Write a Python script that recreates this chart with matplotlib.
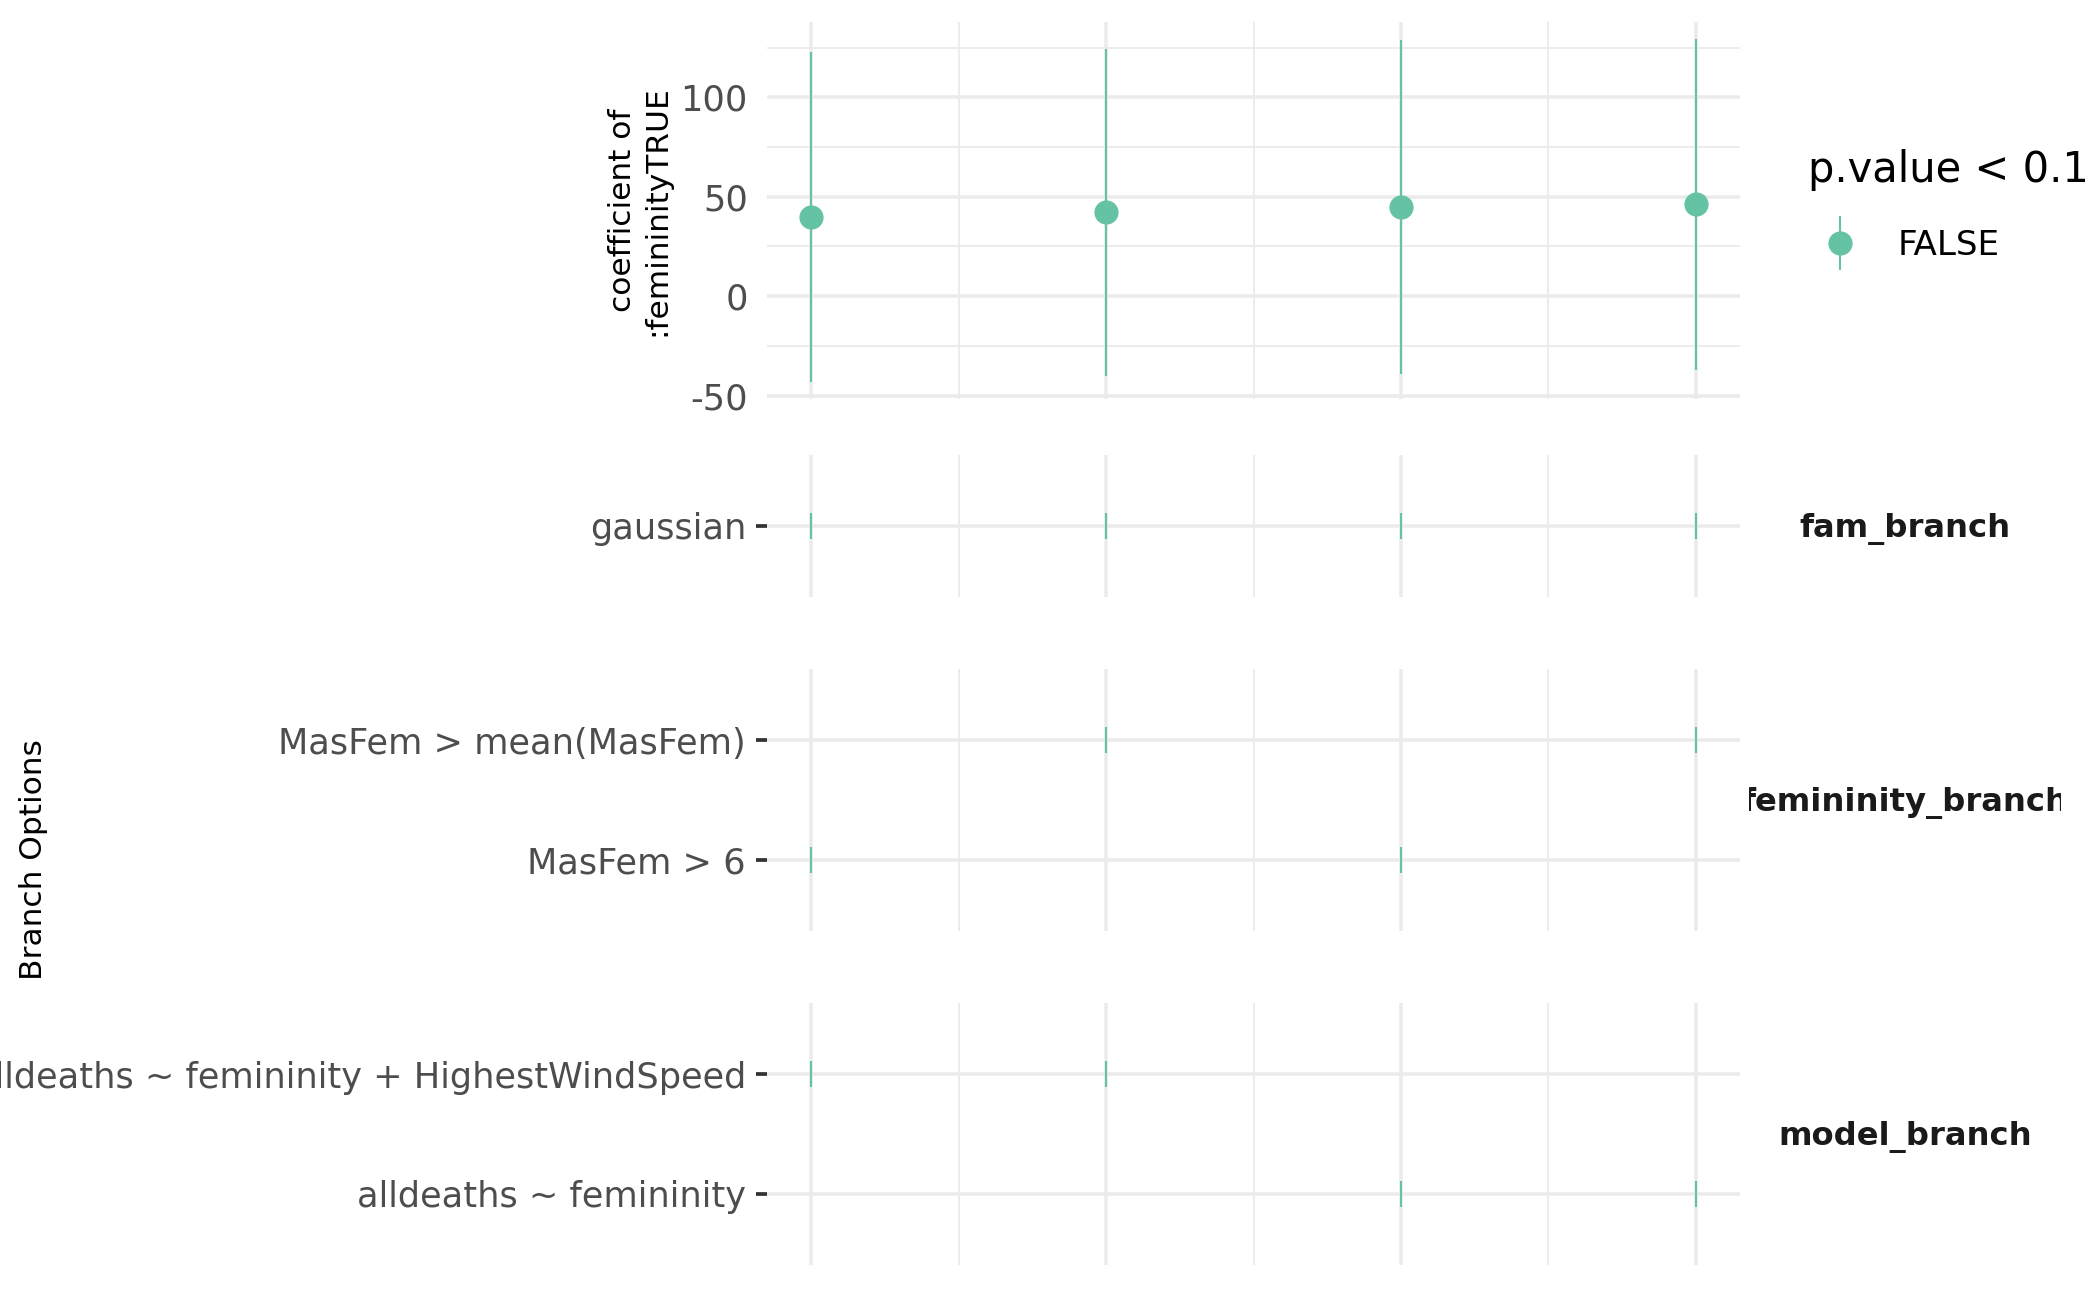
import matplotlib
matplotlib.use("Agg")
import matplotlib.pyplot as plt
import matplotlib.transforms as mtransforms
from matplotlib.container import ErrorbarContainer
from matplotlib.legend_handler import HandlerErrorbar

plt.rcParams["axes.unicode_minus"] = False

# specification curve data
spec = [1, 2, 3, 4]
estimate = [39.8, 42.4, 44.9, 46.3]
conf_low = [-43.4, -40.1, -39.1, -37.1]
conf_high = [122.9, 124.4, 128.8, 129.5]

fam_levels = ["gaussian"]
fem_levels = ["MasFem > 6", "MasFem > mean(MasFem)"]
model_levels = ["alldeaths ~ femininity", "alldeaths ~ femininity + HighestWindSpeed"]

fam_branch = ["gaussian", "gaussian", "gaussian", "gaussian"]
femininity_branch = ["MasFem > 6", "MasFem > mean(MasFem)", "MasFem > 6", "MasFem > mean(MasFem)"]
model_branch = ["alldeaths ~ femininity + HighestWindSpeed", "alldeaths ~ femininity + HighestWindSpeed",
                "alldeaths ~ femininity", "alldeaths ~ femininity"]

GREEN = "#66C2A5"
GRID = "#EBEBEB"
W, H = 2100, 1298
PX = 72 / 300  # points per pixel at 300 dpi


def box(x0, x1, y0, y1):
    return [x0 / W, 1 - y1 / H, (x1 - x0) / W, (y1 - y0) / H]


def style_panel(ax):
    for s in ax.spines.values():
        s.set_visible(False)
    ax.set_xlim(0.85, 4.15)
    ax.set_xticks(spec)
    ax.set_xticks([1.5, 2.5, 3.5], minor=True)
    ax.set_xticklabels([])
    ax.tick_params(axis="x", which="both", length=0)
    ax.grid(which="major", color=GRID, lw=0.85)
    ax.grid(which="minor", color=GRID, lw=0.45)
    ax.set_axisbelow(True)


fig = plt.figure(figsize=(7, 1298 / 300), dpi=300)

# top panel: estimates with intervals
ax = fig.add_axes(box(767, 1740, 22, 399))
style_panel(ax)
err = [[e - l for e, l in zip(estimate, conf_low)], [h - e for e, h in zip(estimate, conf_high)]]
eb = ax.errorbar(spec, estimate, yerr=err, fmt="o", color=GREEN, ms=4.8, elinewidth=0.5,
                 capsize=0, zorder=3, label="FALSE")
ax.set_ylim(-51.7, 137.9)
ax.set_yticks([-50, 0, 50, 100])
ax.set_yticks([-25, 25, 75, 125], minor=True)
ax.tick_params(axis="y", which="both", length=0, pad=19 * PX, labelsize=8.45, labelcolor="#4D4D4D")
ax.set_ylabel("coefficient of\n:femininityTRUE", fontsize=7.5, color="black")
ax.yaxis.set_label_coords((671 - 767) / 973, 0.5)

# bottom panels: which options each specification uses
panels = [
    ("fam_branch", fam_levels, fam_branch, 455, 597),
    ("femininity_branch", fem_levels, femininity_branch, 669, 931),
    ("model_branch", model_levels, model_branch, 1003, 1265),
]
for name, levels, values, y0, y1 in panels:
    bx = fig.add_axes(box(767, 1740, y0, y1))
    style_panel(bx)
    pos = [levels.index(v) + 1 for v in values]
    bx.plot(spec, pos, linestyle="none", marker="|", ms=26 * PX, mew=0.5, color=GREEN, zorder=3)
    bx.set_ylim(0.4, len(levels) + 0.6)
    bx.set_yticks(range(1, len(levels) + 1))
    bx.set_yticklabels(levels)
    bx.tick_params(axis="y", length=11 * PX, width=0.9, color="#333333", pad=10 * PX,
                   labelsize=8.45, labelcolor="#4D4D4D")
    # facet strip on the right, text clipped to strip
    sx = fig.add_axes(box(1749, 2061, y0, y1))
    sx.axis("off")
    tr = mtransforms.offset_copy(sx.transAxes, fig=fig, x=0, y=-3, units="dots")
    t = sx.text(0.5, 0.5, name, transform=tr, ha="center", va="center",
                fontsize=7.75, fontweight="bold", color="#1A1A1A")
    t.set_clip_box(sx.bbox)
    t.set_clip_on(True)

fig.text(34 / W, 1 - 860 / H, "Branch Options", rotation=90, ha="center", va="center",
         fontsize=7.5, color="black")

fig.legend(handles=[eb], labels=["FALSE"], title="p.value < 0.1", loc="upper left",
           bbox_to_anchor=(1808 / W, 1 - 149 / H), frameon=False, fontsize=8.2,
           title_fontsize=10, alignment="left", handlelength=1.87, handletextpad=0.76,
           borderpad=0, borderaxespad=0, labelspacing=1.11,
           handler_map={ErrorbarContainer: HandlerErrorbar(yerr_size=0.8)})

fig.savefig("out.png", dpi=300, facecolor="white")
